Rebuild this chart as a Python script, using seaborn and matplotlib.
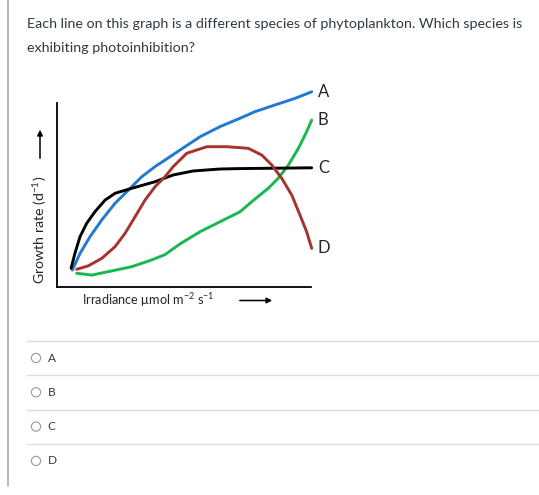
import numpy as np
import pandas as pd
import matplotlib
matplotlib.use("Agg")
import matplotlib.pyplot as plt
from matplotlib.patches import Circle, FancyArrowPatch
import seaborn as sns

# Hand-drawn curves (arbitrary units 0-100)
species = ["A", "B", "C", "D"]
colors = {"A": "#2179d2", "B": "#17b84f", "C": "#000000", "D": "#a5332f"}

irr_a = [6.0, 9.0, 12.9, 17.5, 22.7, 27.9, 33.1, 38.3, 42.2, 48.0, 55.9, 63.7, 71.5, 77.3, 85.2, 93.0, 99.5]
growth_a = [8.5, 16.9, 25.3, 33.7, 42.1, 48.7, 55.4, 60.5, 63.8, 68.8, 75.5, 80.6, 84.8, 88.1, 91.5, 94.8, 98.1]

irr_b = [7.7, 13.6, 20.0, 29.2, 37.0, 42.2, 48.0, 55.9, 63.7, 71.5, 76.1, 82.5, 86.4, 90.4, 94.3, 97.5, 99.5]
growth_b = [6.9, 6.0, 7.7, 10.2, 13.6, 16.3, 21.6, 27.8, 32.8, 37.8, 42.9, 49.6, 54.6, 61.3, 69.7, 78.0, 83.9]

irr_c = [5.5, 7.0, 9.0, 11.6, 14.8, 18.8, 22.7, 29.2, 38.3, 45.4, 53.2, 63.7, 71.5, 99.5]
growth_c = [9.4, 16.9, 25.3, 32.0, 37.8, 43.7, 47.1, 49.6, 52.9, 56.3, 58.3, 59.3, 59.5, 59.9]

irr_d = [7.7, 12.2, 17.5, 22.7, 26.6, 30.5, 34.4, 38.3, 42.2, 45.4, 50.7, 58.5, 66.3, 74.7,
         80.0, 83.9, 87.8, 91.7, 94.9, 97.5, 99.5]
growth_d = [8.9, 10.6, 14.4, 20.3, 27.0, 35.3, 43.7, 50.4, 55.4, 60.5, 67.2, 70.5, 70.5, 69.7,
            66.3, 61.3, 54.6, 46.2, 36.2, 27.8, 19.4]

question_lines = ["Each line on this graph is a different species of phytoplankton. Which species is",
                  "exhibiting photoinhibition?"]
answers = ["A", "B", "C", "D"]

series = {"A": (irr_a, growth_a), "B": (irr_b, growth_b),
          "C": (irr_c, growth_c), "D": (irr_d, growth_d)}
rows = []
for sp in species:
    xs, ys = series[sp]
    for x, y in zip(xs, ys):
        rows.append({"species": sp, "irradiance": x, "growth": y})
df = pd.DataFrame(rows)

sns.set_style("white")
plt.rcParams["font.family"] = ["Lato", "DejaVu Sans"]
plt.rcParams["mathtext.fontset"] = "custom"
plt.rcParams["mathtext.rm"] = "Lato"
plt.rcParams["mathtext.it"] = "Lato"

W, H = 539, 495
fig = plt.figure(figsize=(W / 100, H / 100), dpi=100)

# page layer in pixel units
bg = fig.add_axes([0, 0, 1, 1])
bg.set_xlim(0, W)
bg.set_ylim(H, 0)
bg.axis("off")
bg.plot([8, 8], [0, 486], color="#a9a9a9", lw=1.2)
for i, line in enumerate(question_lines):
    bg.text(27, 27.5 + i * 24.5, line, fontsize=10.3, color="#2d3b45", va="baseline")

for i, lab in enumerate(answers):
    ytop = 341 + i * 34.3
    bg.plot([27, W], [ytop, ytop], color="#dcdcdc", lw=1)
    yc = ytop + 17
    bg.add_patch(Circle((36, yc), 4.6, fill=False, ec="#9a9a9a", lw=0.8))
    bg.text(47.5, yc, lab, fontsize=8.6, color="#2d3b45", va="center", ha="left")

# axis-title decorations
bg.text(40, 230, r"Growth rate (d$^{-1}$)", rotation=90, fontsize=10.2,
        ha="center", va="center")
bg.add_patch(FancyArrowPatch((40, 161), (40, 127), arrowstyle="-|>",
                             mutation_scale=8, lw=1.1, color="black"))
bg.text(82, 300, r"Irradiance $\mathregular{\mu}$mol m$^{-2}$ s$^{-1}$", fontsize=9.2,
        ha="left", va="center")
bg.add_patch(FancyArrowPatch((237, 300.5), (275, 300.5), arrowstyle="-|>",
                             mutation_scale=8, lw=1.1, color="black"))

# chart
ax = fig.add_axes([57 / W, (H - 287) / H, 256 / W, 199 / H])
sns.lineplot(data=df, x="irradiance", y="growth", hue="species",
             estimator=None, sort=False, palette=colors, legend=False,
             linewidth=2.1, ax=ax)
for ln in ax.get_lines():
    ln.set_solid_joinstyle("round")
    ln.set_solid_capstyle("round")
ax.set_xlim(0, 100)
ax.set_ylim(0, 100)
ax.set_xticks([])
ax.set_yticks([])
ax.set_xlabel("")
ax.set_ylabel("")
ax.patch.set_alpha(0)
for s in ["top", "right"]:
    ax.spines[s].set_visible(False)
for s in ["left", "bottom"]:
    ax.spines[s].set_color("black")
    ax.spines[s].set_linewidth(1.3)
ax.spines["left"].set_bounds(0, 92.5)
ax.spines["bottom"].set_bounds(0, 99.3)

for sp in species:
    xs, ys = series[sp]
    ax.annotate(sp, (xs[-1], ys[-1]), xytext=(4.5, 0), textcoords="offset points",
                fontsize=12, ha="left", va="center", annotation_clip=False)

fig.savefig("out.png", dpi=100)
